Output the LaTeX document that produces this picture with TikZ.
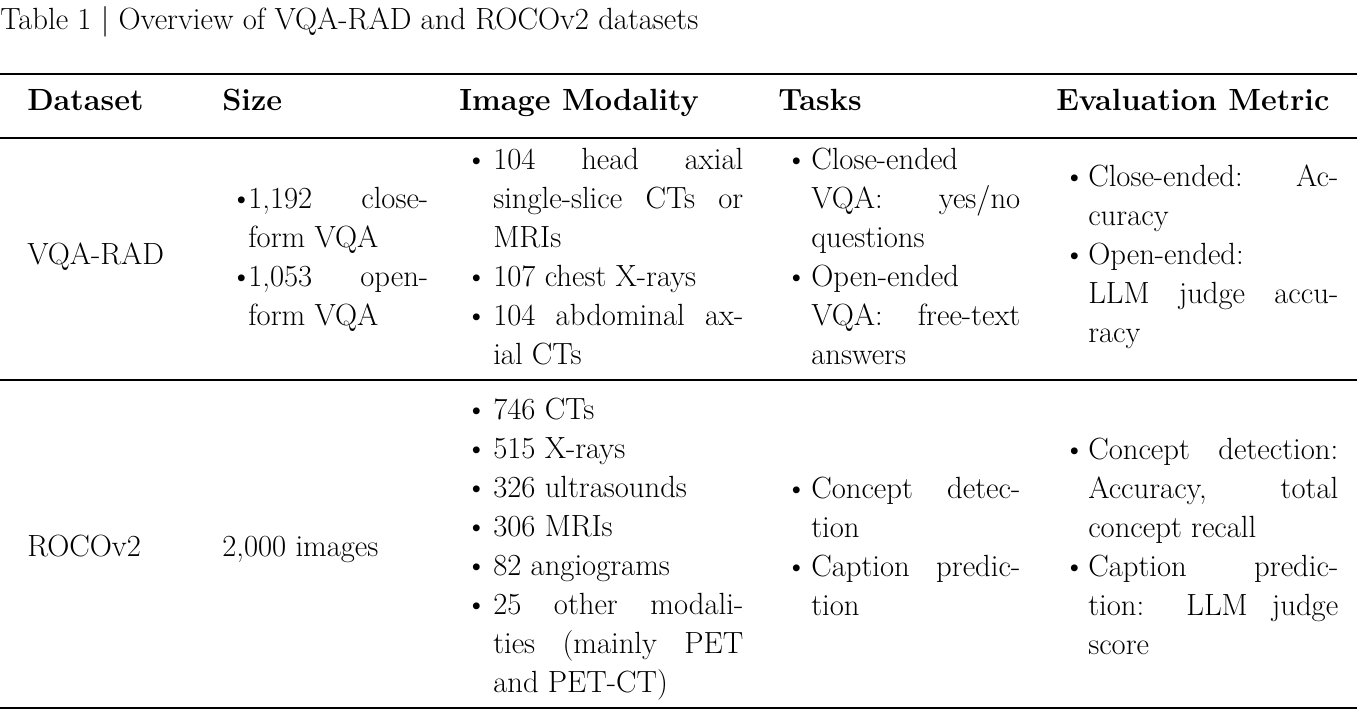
\documentclass[tikz,border=0pt]{standalone}
\begin{document}
\begin{tikzpicture}[x=0.75pt,y=-0.75pt,
  t/.style={anchor=base west,inner sep=0pt,font=\fontsize{23}{27}\selectfont},
  h/.style={t,font=\fontsize{23}{27}\selectfont\bfseries},
  b/.style={anchor=base west,inner sep=0pt,font=\fontsize{23}{27}\selectfont}]
\useasboundingbox (0,0) rectangle (1357,710);
\newcommand\J[4]{\node[t] (#1) at (#2) {\makebox[#3][s]{#4}};}
\newcommand\Bu[2]{\node[b] (#1) at (#2) {\textbullet};}
\node[t] (title) at (0,30) {Table 1 | Overview of VQA-RAD and ROCOv2 datasets};
\draw[line width=1.5pt] (0,74) -- (1357,74);
\draw[line width=0.8pt] (0,138) -- (1357,138);
\draw[line width=0.8pt] (0,380) -- (1357,380);
\draw[line width=1.5pt] (0,708) -- (1357,708);
\node[h] (h1) at (27,111) {Dataset};
\node[h] (h2) at (222,111) {Size};
\node[h] (h3) at (459,111) {Image Modality};
\node[h] (h4) at (778,111) {Tasks};
\node[h] (h5) at (1056,111) {Evaluation Metric};
% VQA-RAD
\node[t] (r1) at (27,264) {VQA-RAD};
\Bu{s1}{230,208}\J{s1a}{248,208}{135pt}{1,192 close-}
\node[t] (s1b) at (248,247) {form VQA};
\Bu{s2}{230,286}\J{s2a}{248,286}{135pt}{1,053 open-}
\node[t] (s2b) at (248,325) {form VQA};
\Bu{i1}{465,169}\J{i1a}{493,169}{187.5pt}{104 head axial}
\J{i1b}{493,208}{187.5pt}{single-slice CTs or}
\node[t] (i1c) at (493,247) {MRIs};
\Bu{i2}{465,286}\node[t] (i2a) at (493,286) {107 chest X-rays};
\Bu{i3}{465,325}\J{i3a}{493,325}{187.5pt}{104 abdominal ax-}
\node[t] (i3b) at (493,364) {ial CTs};
\Bu{k1}{785,169}\J{k1a}{811,169}{156.75pt}{Close-ended}
\J{k1b}{811,208}{156.75pt}{VQA: yes/no}
\node[t] (k1c) at (811,247) {questions};
\Bu{k2}{785,286}\J{k2a}{811,286}{156.75pt}{Open-ended}
\J{k2b}{811,325}{156.75pt}{VQA: free-text}
\node[t] (k2c) at (811,364) {answers};
\Bu{e1}{1063,186}\J{e1a}{1088,186}{187.5pt}{Close-ended: Ac-}
\node[t] (e1b) at (1088,225) {curacy};
\Bu{e2}{1063,264}\node[t] (e2a) at (1088,264) {Open-ended:};
\J{e2b}{1088,303}{187.5pt}{LLM judge accu-}
\node[t] (e2c) at (1088,342) {racy};
% ROCOv2
\node[t] (r2) at (27,556) {ROCOv2};
\node[t] (s3) at (222,556) {2,000 images};
\Bu{m1}{465,419}\node[t] (m1a) at (493,419) {746 CTs};
\Bu{m2}{465,458}\node[t] (m2a) at (493,458) {515 X-rays};
\Bu{m3}{465,497}\node[t] (m3a) at (493,497) {326 ultrasounds};
\Bu{m4}{465,536}\node[t] (m4a) at (493,536) {306 MRIs};
\Bu{m5}{465,575}\node[t] (m5a) at (493,575) {82 angiograms};
\Bu{m6}{465,614}\J{m6a}{493,614}{187.5pt}{25 other modali-}
\J{m6b}{493,653}{187.5pt}{ties (mainly PET}
\node[t] (m6c) at (493,692) {and PET-CT)};
\Bu{q1}{785,498}\J{q1a}{811,498}{156.75pt}{Concept detec-}
\node[t] (q1b) at (811,537) {tion};
\Bu{q2}{785,576}\J{q2a}{811,576}{156.75pt}{Caption predic-}
\node[t] (q2b) at (811,615) {tion};
\Bu{f1}{1063,459}\J{f1a}{1088,459}{187.5pt}{Concept detection:}
\J{f1b}{1088,498}{187.5pt}{Accuracy, total}
\node[t] (f1c) at (1088,537) {concept recall};
\Bu{f2}{1063,576}\J{f2a}{1088,576}{187.5pt}{Caption predic-}
\J{f2b}{1088,615}{187.5pt}{tion: LLM judge}
\node[t] (f2c) at (1088,654) {score};
\end{tikzpicture}
\end{document}
